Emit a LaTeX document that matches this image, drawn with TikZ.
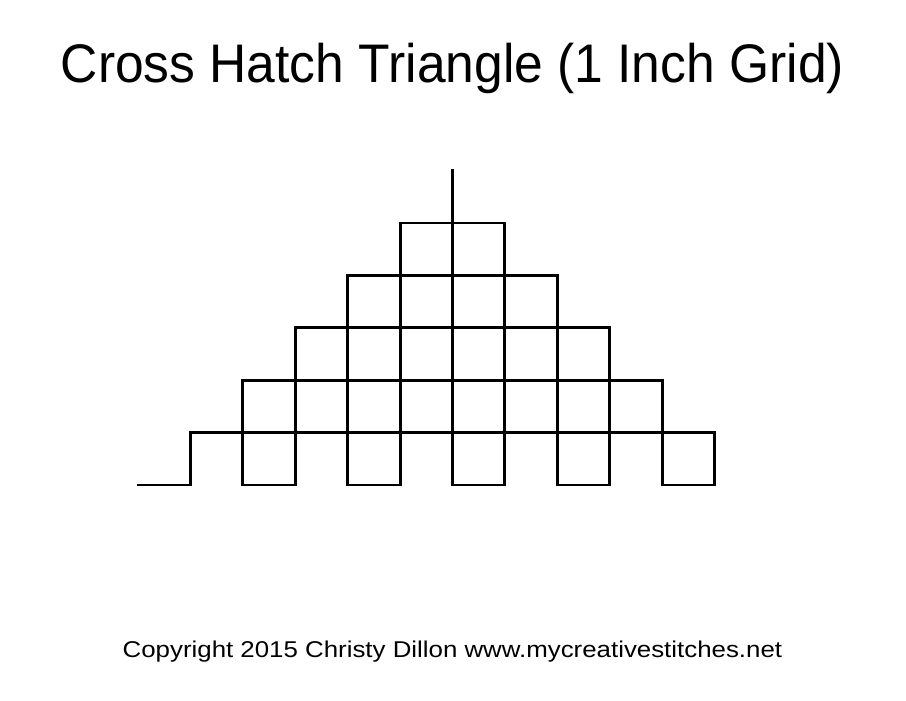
\documentclass[tikz,border=0pt]{standalone}
\usepackage{fontspec}
\setmainfont{Liberation Sans}
\begin{document}
\begin{tikzpicture}[line width=1.6pt, line cap=rect]
                \useasboundingbox (-2.634,-4.103) rectangle (14.656,9.256);
                \node[anchor=base, font=\fontsize{29.5}{34}\selectfont] (title) at (6,7.69) {\scalebox{0.949}[1]{Cross Hatch Triangle (1 Inch Grid)}};
                % bottom pieces
                \foreach \k in {0,2,...,10}
                    \draw (\k,0) -- (\k+1,0);
                % rows
                \foreach \j in {1,...,5}
                    \draw (\j,\j) -- ({12-\j},\j);
                % columns
                \foreach \k in {1,...,11}
                    \draw (\k,0) -- (\k,{6-abs(\k-6)});
                \node[anchor=base, font=\fontsize{12.4}{15}\selectfont] (credit) at (6,-3.30) {\scalebox{1.132}[1]{Copyright 2015 Christy Dillon www.mycreativestitches.net}};
            \end{tikzpicture}
\end{document}
